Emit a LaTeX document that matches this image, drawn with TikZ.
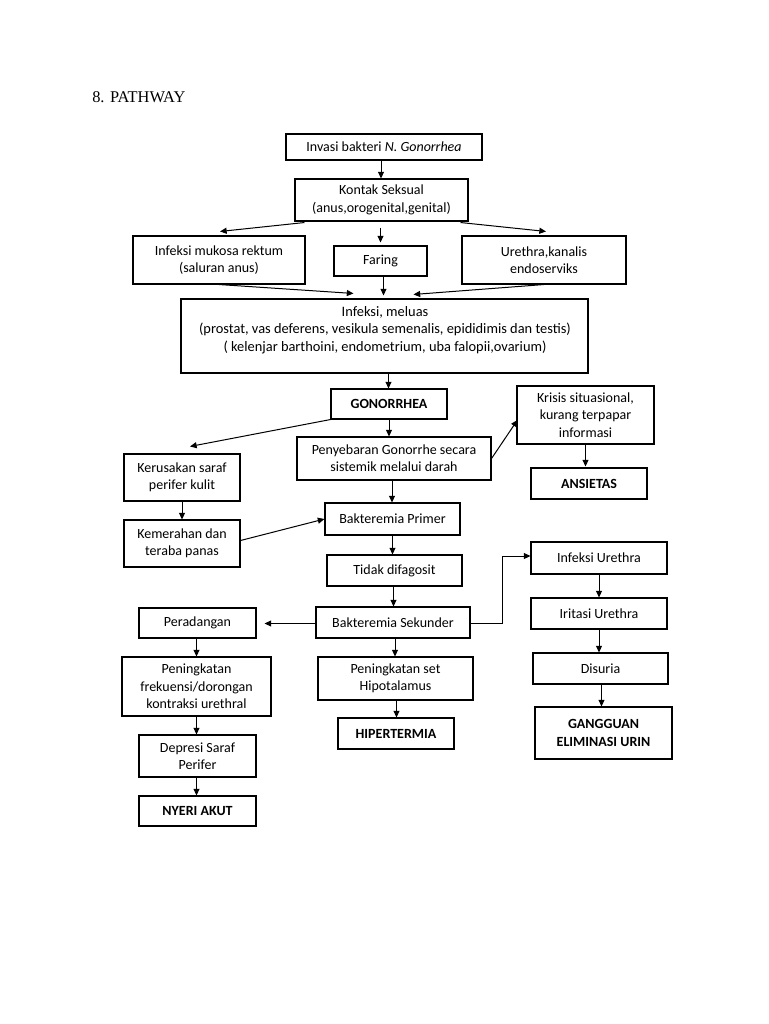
\documentclass[tikz,border=0pt]{standalone}
\usepackage{fontspec}
\setmainfont{Carlito}
\newfontfamily\titlefont{Liberation Serif}
\usetikzlibrary{arrows.meta,calc}
\tikzset{
  box/.style={draw,line width=0.8pt,align=center,inner sep=1pt,font=\fontsize{10.5}{13}\selectfont},
  boldbox/.style={font=\bfseries\fontsize{10.5}{13}\selectfont},
  conn/.style={line width=0.75pt,-{Triangle[length=5pt,width=4.5pt]}},
}
\newcommand{\bx}[7][]{\node[box,#1,minimum width={(#5-#3)*0.75pt},minimum height={(#6-#4)*0.75pt}] (#2) at ({(#3+#5)/2},{(#4+#6)/2}) {#7};}
\begin{document}
\begin{tikzpicture}[x=0.75pt,y=-0.75pt]
\useasboundingbox (0,0) rectangle (768,1024);
\node[anchor=west,font=\titlefont\fontsize{12.3}{14}\selectfont,inner sep=0pt] (title) at (92,97) {8. PATHWAY};
\bx{inv}{286}{134}{482}{160}{Invasi bakteri \textit{N. Gonorrhea}}
\bx{kon}{295}{179}{468}{221}{Kontak Seksual\\(anus,orogenital,genital)}
\bx{rek}{133}{236}{305}{284}{Infeksi mukosa rektum\\(saluran anus)}
\bx{far}{334}{246}{427}{276}{Faring}
\bx{ure}{462}{236}{626}{284}{Urethra,kanalis\\endoserviks}
\bx{mel}{181}{299}{588}{373}{}
\node[align=center,font=\fontsize{10.8}{13}\selectfont] (meltext) at (385,330) {Infeksi, meluas\\(prostat, vas deferens, vesikula semenalis, epididimis dan testis)\\( kelenjar barthoini, endometrium, uba falopii,ovarium)};
\bx[boldbox]{gon}{331}{389}{447}{419}{GONORRHEA}
\bx{kri}{517}{386}{654}{444}{Krisis situasional,\\kurang terpapar\\informasi}
\bx{pen}{297}{437}{491}{480}{Penyebaran Gonorrhe secara\\sistemik melalui darah}
\bx[boldbox]{ans}{531}{468}{647}{499}{ANSIETAS}
\bx{ker}{124}{454}{240}{501}{Kerusakan saraf\\perifer kulit}
\bx{bp}{325}{503}{460}{535}{Bakteremia Primer}
\bx{kem}{124}{520}{240}{567}{Kemerahan dan\\teraba panas}
\bx{tid}{327}{555}{462}{586}{Tidak difagosit}
\bx{iu}{531}{542}{667}{574}{Infeksi Urethra}
\bx{bs}{316}{607}{470}{638}{Bakteremia Sekunder}
\bx{per}{139}{608}{256}{638}{Peradangan}
\bx{ir}{531}{598}{667}{629}{Iritasi Urethra}
\bx{pf}{122}{657}{271}{716}{Peningkatan\\frekuensi/dorongan\\kontraksi urethral}
\bx{ps}{318}{657}{473}{700}{Peningkatan set\\Hipotalamus}
\bx{dis}{533}{653}{668}{684}{Disuria}
\bx[boldbox]{gang}{535}{707}{672}{759}{GANGGUAN\\ELIMINASI URIN}
\bx[boldbox]{hip}{338}{718}{454}{749}{HIPERTERMIA}
\bx{dep}{139}{735}{256}{777}{Depresi Saraf\\Perifer}
\bx[boldbox]{nye}{139}{796}{256}{826}{NYERI AKUT}
% connectors
\draw[conn] ($(inv.south)+(-3,0)$) -- ($(inv.south |- kon.north)+(-3,0)$);
\draw[conn] ($(kon.south west)+(10,1)$) -- ($(rek.north)+(1,-4)$);
\draw[conn] ($(kon.south)+(-1,6)$) -- ($(far.north)+(0,-3)$);
\draw[conn] ($(kon.south east)+(-8,1)$) -- ($(ure.north)+(2,-4)$);
\draw[conn] (rek.south) -- ($(mel.north)+(-31,-5)$);
\draw[conn] ($(far.south)+(3,0)$) -- ($(far.south |- mel.north)+(3,-3)$);
\draw[conn] (ure.south) -- ($(mel.north)+(29,-4)$);
\draw[conn] ($(mel.south)+(4,0)$) -- ($(mel.south |- gon.north)+(4,0)$);
\draw[conn] (gon.south west) -- ($(ker.north)+(8,-7)$);
\draw[conn] (gon.south) -- (gon.south |- pen.north);
\draw[conn] (pen.east) -- ($(kri.west)+(1,5)$);
\draw[conn] (kri.south) -- ($(kri.south |- ans.north)+(0,-1)$);
\draw[conn] ($(pen.south)+(-2,0)$) -- ($(pen.south |- bp.north)+(-2,0)$);
\draw[conn] (ker.south) -- (ker.south |- kem.north);
\draw[conn] ($(kem.east)+(0,-3)$) -- (bp.west);
\draw[conn] (bp.south) -- (bp.south |- tid.north);
\draw[conn] ($(tid.south)+(-1,0)$) -- ($(tid.south |- bs.north)+(-1,0)$);
\draw[conn,shorten >=6pt] ($(bs.west)+(0,1)$) -- ($(bs.west -| per.east)+(0,1)$);
\draw[conn] ($(bs.east)+(0,1)$) -- ++(32,0) |- ($(iu.west)+(0,-2)$);
\draw[conn] (iu.south) -- (iu.south |- ir.north);
\draw[conn] (ir.south) -- (ir.south |- dis.north);
\draw[conn] ($(dis.south)+(1,0)$) -- ($(dis.south |- gang.north)+(1,0)$);
\draw[conn] ($(bs.south)+(2,0)$) -- ($(bs.south |- ps.north)+(2,0)$);
\draw[conn] ($(ps.south)+(1,0)$) -- ($(ps.south |- hip.north)+(1,0)$);
\draw[conn] ($(per.south)+(-1,0)$) -- ($(per.south |- pf.north)+(-1,0)$);
\draw[conn] ($(pf.south)+(0,0)$) -- (pf.south |- dep.north);
\draw[conn] ($(dep.south)+(-1,0)$) -- ($(dep.south |- nye.north)+(-1,0)$);
\end{tikzpicture}
\end{document}
